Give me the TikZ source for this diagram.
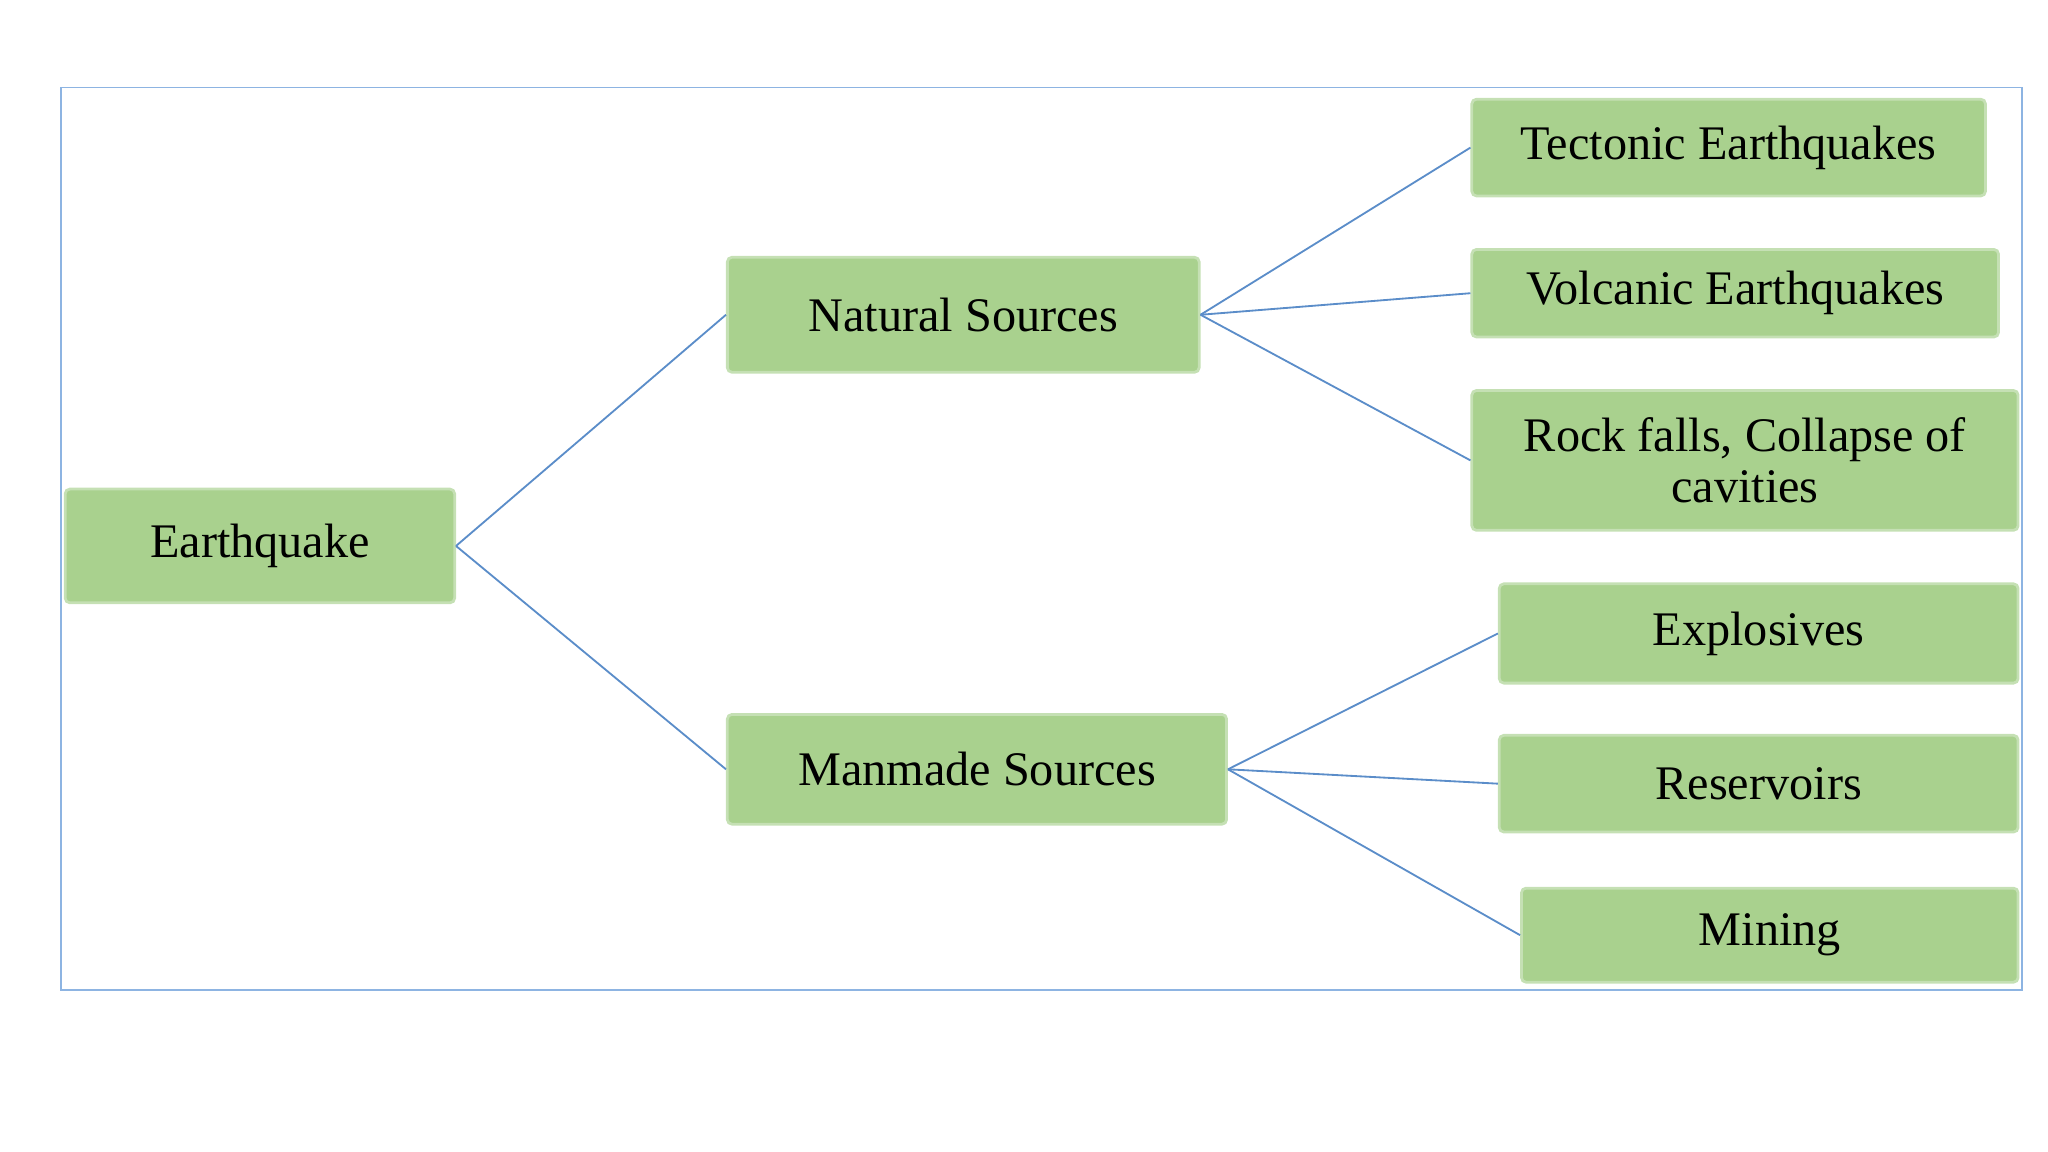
\documentclass[tikz,border=0pt]{standalone}
\usepackage{fontspec}
\setmainfont{Liberation Serif}
\definecolor{boxgreen}{HTML}{A9D18E}
\definecolor{boxedge}{HTML}{C5E0B4}
\definecolor{linkblue}{HTML}{5B8DC9}
\definecolor{framblue}{HTML}{8DB4E2}
\begin{document}
\begin{tikzpicture}[x=0.01cm,y=-0.01cm,
  box/.style={draw=boxedge, line width=0.6pt, fill=boxgreen, rounded corners=1pt,
    font=\fontsize{10.5}{11}\selectfont, align=center, inner sep=0pt},
  link/.style={draw=linkblue, line width=0.4pt}]
\useasboundingbox (0,0) rectangle (1568,882);
\draw[framblue, line width=0.4pt] (47,67) rectangle (1548,758);
\node[box, minimum width=298\pgflinewidth*0+2.98cm, minimum height=0.87cm] (eq) at (199,418) {Earthquake};
\node[box, minimum width=3.61cm, minimum height=0.88cm] (nat) at (737.5,241) {Natural Sources};
\node[box, minimum width=3.82cm, minimum height=0.84cm] (man) at (748,589) {Manmade Sources};
\node[box, minimum width=3.93cm, minimum height=0.74cm] (tec) at (1323.5,113) {Tectonic Earthquakes};
\node[box, minimum width=4.03cm, minimum height=0.67cm] (vol) at (1328.5,224.5) {Volcanic Earthquakes};
\node[box, minimum width=4.18cm, minimum height=1.07cm] (rock) at (1336,352.5) {Rock falls, Collapse of\\cavities};
\node[box, minimum width=3.97cm, minimum height=0.76cm] (exp) at (1346.5,485) {Explosives};
\node[box, minimum width=3.97cm, minimum height=0.74cm] (res) at (1346.5,600) {Reservoirs};
\node[box, minimum width=3.80cm, minimum height=0.72cm] (min) at (1355,716) {Mining};
\draw[link] (eq.east) -- (nat.west);
\draw[link] (eq.east) -- (man.west);
\draw[link] (nat.east) -- (tec.west);
\draw[link] (nat.east) -- (vol.west);
\draw[link] (nat.east) -- (rock.west);
\draw[link] (man.east) -- (exp.west);
\draw[link] (man.east) -- (res.west);
\draw[link] (man.east) -- (min.west);
\end{tikzpicture}
\end{document}
